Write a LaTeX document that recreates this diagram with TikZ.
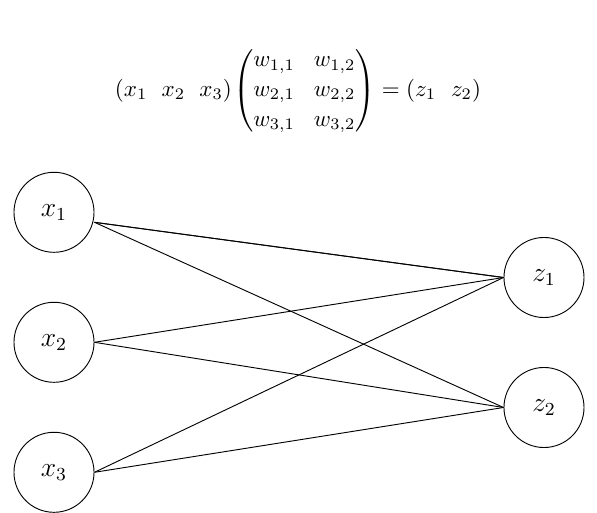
\documentclass[tikz,border=0pt]{standalone}
\usepackage{amsmath}
\begin{document}
\begin{tikzpicture}[x=0.4348pt,y=-0.4348pt,
  neuron/.style={draw,circle,minimum size=34.8pt,inner sep=0pt,font=\large},
  link/.style={draw,line width=0.4pt}]
\useasboundingbox (0,0) rectangle (597,513);
\node[inner sep=0pt] (eq) at (298,90.5) {\renewcommand{\arraystretch}{1.08}$(x_1\hspace{6.2pt}x_2\hspace{6.2pt}x_3)\hspace{-1pt}
\left(\begin{array}{@{}l@{\hspace{8.3pt}}l@{}} w_{1,1} & w_{1,2}\\ w_{2,1} & w_{2,2}\\ w_{3,1} & w_{3,2}\end{array}\right)
= (z_1\hspace{6.5pt}z_2)$};
\node[neuron] (x1) at (54,212.3) {$x_1$};
\node[neuron] (x2) at (54,342.3) {$x_2$};
\node[neuron] (x3) at (54,472.3) {$x_3$};
\node[neuron] (z1) at (544,277.5) {$z_1$};
\node[neuron] (z2) at (544,407.5) {$z_2$};
\coordinate (x1o) at ([yshift=-4.35pt]x1.east);
\draw[link] (x1o) -- (z1.west);
\draw[link] (x1o) -- (z1.west);
\draw[link] (x1o) -- (z2.west);
\draw[link] (x2.east) -- (z1.west);
\draw[link] (x2.east) -- (z2.west);
\draw[link] (x3.east) -- (z1.west);
\draw[link] (x3.east) -- (z2.west);
\end{tikzpicture}
\end{document}
